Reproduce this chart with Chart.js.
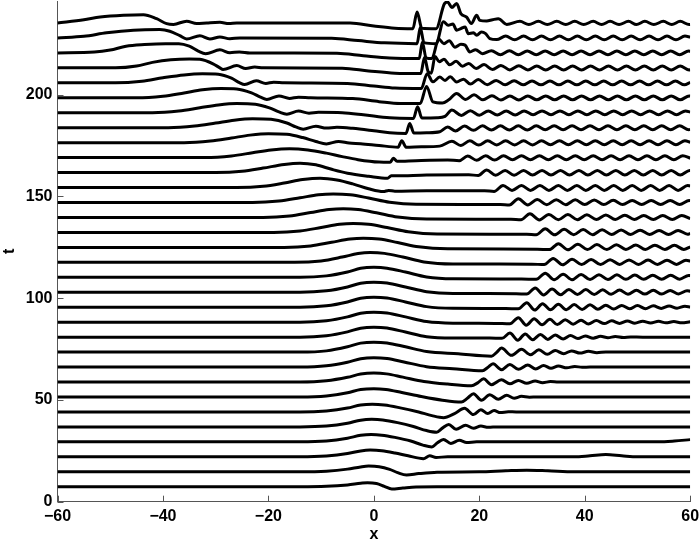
<!DOCTYPE html>
<html lang="en">
<head>
<meta charset="UTF-8">
<title>Waterfall</title>
<script src="https://cdn.jsdelivr.net/npm/chart.js"></script>
<style>
  html, body { margin: 0; padding: 0; background: #fff; }
</style>
</head>
<body>
<canvas id="mychart" width="700" height="545"></canvas>
<script>
// baseline t of every trace, bottom to top
const tBase = [7.35, 14.7, 22.05, 29.4, 36.75, 44.1, 51.45, 58.8, 66.15, 73.5, 80.85, 88.2, 95.55, 102.9, 110.25, 117.6,
               124.95, 132.3, 139.65, 147, 154.35, 161.7, 169.05, 176.4, 183.75, 191.1, 198.45, 205.8, 213.15, 220.5, 227.85, 235.2];

const xTicks = [-60, -40, -20, 0, 20, 40, 60];
const yTicks = [0, 50, 100, 150, 200];

// each trace: [x, height above its baseline]
const u01 = [[-60,0],[-14,0],[-9,0.2],[-5,0.9],[-2.5,1.7],[-1.2,2.0],[0.5,1.6],[2,0.2],[3.4,-1.1],[5.5,-0.6],[8,-0.1],[12,0],[60,0]];
const u02 = [[-60,0],[-14,0],[-9,0.3],[-5,1.3],[-2.5,2.4],[-1,2.8],[1,2.5],[3,1.2],[4.5,-0.4],[6.2,-1.6],[8.5,-0.9],[12,-0.2],[20,0],[25,0.5],[29,0.8],[33,0.5],[38,0],[60,0]];
const u03 = [[-60,0],[-14,0],[-9,0.4],[-5,1.6],[-2.5,2.9],[-0.7,3.3],[1.5,3.0],[4,1.9],[6.5,0.5],[9.4,-0.9],[10.6,0.5],[11.8,-0.3],[14,0],[38,0],[41,0.5],[44,1.1],[47,0.5],[50,0],[60,0]];
const u04 = [[-60,0],[-14,0],[-9,0.4],[-5,1.8],[-2.5,3.2],[-0.5,3.6],[1.5,3.3],[4,2.2],[7,0.4],[9.3,-1.6],[11,-2.5],[12,-0.6],[13.2,1.2],[14.6,-0.8],[16.2,0.8],[17.6,-0.3],[19.5,0],[54,0],[57,0.4],[60,1.1]];
const u05 = [[-60,0],[-14,0],[-9,0.4],[-5,1.8],[-2.5,3.3],[-0.4,3.7],[1.7,3.4],[4.5,2.1],[7.5,0.2],[10,-1.8],[11.9,-2.6],[13,-0.6],[14.2,1.2],[15.6,-1.2],[17.4,0.8],[18.9,-0.7],[20.3,0.4],[21.7,-0.2],[23.5,0],[60,0]];
const u06 = [[-60,0],[-14,0],[-9,0.5],[-5,1.9],[-2.5,3.4],[-0.3,3.8],[2,3.4],[5,2],[8.5,0],[11,-1.8],[13.2,-2.8],[15.3,-0.8],[17.2,1.8],[18.9,-1.3],[20.3,1.1],[21.6,-0.8],[22.8,0.7],[24,-0.3],[25.5,0.1],[27,0],[60,0]];
const u07 = [[-60,0],[-14,0],[-9,0.5],[-5,2.1],[-2.5,3.7],[0,4.1],[2.3,3.7],[5.3,2.2],[9,0.2],[13,-1.6],[16.6,-2.5],[17.8,-0.5],[18.9,1.6],[20.4,-1.6],[22,1.1],[23.6,-1.1],[25.2,0.8],[26.6,-0.6],[28,0.3],[29.5,-0.1],[31,0],[60,0]];
const u08 = [[-60,0],[-14,0],[-9,0.6],[-5,2.3],[-2.5,3.9],[0,4.4],[2.4,4.0],[5.5,2.4],[9.5,0.3],[14,-1.0],[18.5,-1.8],[19.7,-0.4],[20.8,1.6],[22.3,-1.3],[24.2,1.1],[25.8,-0.9],[27.4,0.8],[29,-0.6],[30.6,0.5],[32,-0.3],[33.5,0.2],[35,0],[60,0]];
const u09 = [[-60,0],[-14,0],[-9,0.6],[-5,2.4],[-2.5,4.1],[0,4.6],[2.5,4.2],[5.7,2.5],[10,0.2],[15,-0.8],[20.6,-1.8],[21.6,-0.2],[22.6,1.6],[24.2,-1.3],[25.8,1.3],[27.4,-1.1],[29.2,1.0],[30.7,-0.9],[32.2,0.8],[33.6,-0.6],[35,0.5],[36.6,-0.4],[38.1,0.3],[39.5,-0.1],[41,0],[60,0]];
const u10 = [[-60,0],[-14,0],[-9,0.6],[-5,2.6],[-2.5,4.4],[0,4.9],[2.5,4.5],[6,2.6],[10,0.3],[16,-0.8],[22.3,-2.0],[23.3,-0.1],[24.2,2.0],[26.1,-1.6],[28,1.4],[29.7,-1.3],[31.3,1.1],[32.9,-1.1],[34.4,0.8],[36,-0.8],[37.5,0.6],[39.1,-0.5],[40.7,0.4],[42.3,-0.3],[44,0.1],[46,0],[60,0]];
const u11 = [[-60,0],[-14,0],[-9,0.7],[-5,2.6],[-2.5,4.4],[0,4.9],[2.5,4.5],[6,2.5],[10,0.2],[15,-0.4],[22,-0.4],[24.3,-0.6],[25.8,2.0],[27.3,-1.5],[28.7,1.6],[30.1,-1.3],[31.6,1.3],[33,-1.1],[34.4,1.0],[35.9,-0.9],[37.3,0.8],[38.7,-0.7],[40.1,0.6],[41.6,-0.5],[43,0.4],[44.4,-0.3],[45.8,0.3],[47.3,-0.2],[48.7,0.1],[51,0],[60,0]];
const u12 = [[-60,0],[-14,0],[-9,0.7],[-5,2.6],[-2.5,4.4],[0,4.9],[2.5,4.5],[6,2.6],[10,0.3],[15,-0.5],[23,-0.6],[25.8,-0.8],[27.4,2.2],[28.9,-1.5],[30.4,1.7],[31.9,-1.3],[33.4,1.4],[34.8,-1.2],[36.3,1.2],[37.8,-1.0],[39.3,1.0],[40.7,-0.9],[42.2,0.8],[43.7,-0.7],[45.1,0.7],[46.6,-0.6],[48.1,0.6],[49.5,-0.5],[51,0.5],[52.5,-0.4],[54,0.4],[55.4,-0.3],[56.9,0.3],[58.4,-0.3],[60,0.2]];
const u13 = [[-60,0],[-14,0],[-9,0.7],[-5,2.6],[-2.5,4.4],[0,4.9],[2.5,4.5],[6,2.6],[10,0.3],[15,-0.5],[25,-0.6],[27.4,-0.8],[29,2.2],[30.5,-1.4],[32,1.7],[33.5,-1.3],[35,1.5],[36.5,-1.2],[38,1.3],[39.5,-1.1],[41,1.2],[42.5,-1.0],[44,1.0],[45.5,-0.9],[47,0.9],[48.5,-0.8],[50,0.8],[51.5,-0.7],[53,0.7],[54.5,-0.6],[56,0.6],[57.5,-0.5],[59,0.5],[60,0.1]];
const u14 = [[-60,0],[-14,0],[-9,0.7],[-5,2.6],[-2.5,4.4],[0,4.9],[2.5,4.5],[6,2.6],[10,0.3],[15,-0.6],[27,-0.7],[29,-0.9],[30.6,2.1],[32.2,-1.3],[33.8,1.6],[35.4,-1.2],[37,1.4],[38.6,-1.1],[40.2,1.3],[41.8,-1.1],[43.4,1.2],[45,-1.0],[46.6,1.1],[48.2,-1.0],[49.8,1.0],[51.4,-0.9],[53,1.0],[54.6,-0.9],[56.2,0.9],[57.8,-0.8],[59.4,0.8],[60,0.5]];
const u15 = [[-60,0],[-14,0],[-9,0.7],[-5,2.6],[-2.5,4.4],[0,4.9],[2.5,4.5],[6,2.6],[10,0.2],[15,-0.7],[28,-0.8],[30.8,-1.0],[32.5,2.0],[34.2,-1.2],[35.9,1.5],[37.6,-1.2],[39.3,1.4],[41,-1.1],[42.7,1.3],[44.4,-1.1],[46.1,1.2],[47.8,-1.0],[49.5,1.1],[51.2,-1.0],[52.9,1.0],[54.6,-1.0],[56.3,1.0],[58,-0.9],[59.7,0.9],[60,0.8]];
const u16 = [[-60,0],[-15,0],[-10,0.7],[-6,2.6],[-3,4.3],[-0.7,4.8],[2,4.4],[5.5,2.6],[9.5,0.2],[15,-0.8],[30,-0.9],[32.3,-1.1],[34,1.9],[35.8,-1.2],[37.6,1.5],[39.4,-1.1],[41.2,1.4],[43,-1.1],[44.8,1.3],[46.6,-1.0],[48.4,1.2],[50.2,-1.0],[52,1.1],[53.8,-1.0],[55.6,1.0],[57.4,-1.0],[59.2,1.0],[60,0.6]];
const u17 = [[-60,0],[-17,0],[-12,0.7],[-8,2.5],[-4.5,4.1],[-2,4.5],[1,4.1],[4.5,2.4],[8.5,0.3],[14,-0.7],[31,-0.9],[33.3,-1.1],[35,1.8],[36.8,-1.2],[38.7,1.5],[40.5,-1.1],[42.3,1.4],[44.2,-1.1],[46,1.3],[47.8,-1.0],[49.7,1.2],[51.5,-1.0],[53.3,1.1],[55.2,-1.0],[57,1.0],[58.8,-1.0],[60,0.3]];
const u18 = [[-60,0],[-19,0],[-14,0.7],[-10,2.4],[-6.5,4.0],[-3.9,4.4],[-1,4.0],[2.5,2.4],[6.5,0.3],[12,-0.8],[29,-0.9],[30.8,-1.1],[32.5,1.8],[34.3,-1.2],[36.1,1.5],[37.9,-1.1],[39.7,1.4],[41.5,-1.1],[43.3,1.3],[45.1,-1.0],[46.9,1.2],[48.7,-1.0],[50.5,1.1],[52.3,-1.0],[54.1,1.0],[55.9,-1.0],[57.7,1.0],[59.5,-0.9],[60,-0.5]];
const u19 = [[-60,0],[-21,0],[-16,0.7],[-12,2.4],[-8.5,3.9],[-5.8,4.3],[-3,3.9],[0.5,2.3],[4.5,0.2],[10,-0.8],[26,-0.9],[27.9,-1.1],[29.6,1.8],[31.4,-1.2],[33.2,1.5],[35,-1.1],[36.8,1.4],[38.6,-1.1],[40.4,1.3],[42.2,-1.0],[44,1.2],[45.8,-1.0],[47.6,1.1],[49.4,-1.0],[51.2,1.0],[53,-1.0],[54.8,1.0],[56.6,-1.0],[58.4,1.0],[60,-0.6]];
const u20 = [[-60,0],[-23,0],[-18,0.7],[-14,2.3],[-10.5,3.8],[-7.7,4.2],[-4.5,3.8],[-1,2.2],[3,0.1],[8,-0.9],[24,-1.0],[25.7,-1.2],[27.4,1.8],[29.2,-1.2],[31,1.5],[32.8,-1.1],[34.6,1.4],[36.4,-1.1],[38.2,1.3],[40,-1.0],[41.8,1.2],[43.6,-1.0],[45.4,1.1],[47.2,-1.0],[49,1.0],[50.8,-1.0],[52.6,1.0],[54.4,-1.0],[56.2,1.0],[58,-1.0],[59.8,1.0],[60,0.9]];
const u21 = [[-60,0],[-26,0],[-21,0.6],[-17,2.2],[-13.5,3.9],[-10.2,4.6],[-7,3.7],[-4,1.8],[-1,-0.6],[1.8,-2.0],[2.8,-1.4],[4,-1.8],[10,-1.6],[21,-1.6],[22.8,-1.9],[24.5,1.0],[26.2,-1.4],[28,1.0],[29.7,-1.4],[31.5,1.0],[33.2,-1.4],[35,1.0],[36.7,-1.4],[38.5,1.0],[40.2,-1.4],[42,1.0],[43.7,-1.4],[45.5,1.0],[47.2,-1.4],[49,1.0],[50.7,-1.4],[52.5,1.0],[54.2,-1.4],[56,1.0],[57.7,-1.4],[59.5,1.0],[60,0.8]];
const u22 = [[-60,0],[-30,0],[-25,0.6],[-21,2.2],[-17,4.0],[-14,4.6],[-11,3.8],[-8,1.6],[-5,-0.3],[-1,-1.8],[2.6,-2.8],[3.3,-1.6],[4.2,-1.6],[10,-1.2],[18,-1.1],[19.8,-1.4],[21.4,1.3],[23.1,-1.3],[24.9,1.0],[26.6,-1.3],[28.4,1.0],[30.1,-1.2],[31.9,1.0],[33.6,-1.2],[35.4,1.0],[37.1,-1.2],[38.9,1.0],[40.6,-1.2],[42.4,1.0],[44.1,-1.2],[45.9,1.0],[47.6,-1.2],[49.4,1.0],[51.1,-1.2],[52.9,1.0],[54.6,-1.2],[56.4,1.0],[58.1,-1.2],[59.9,1.0],[60,1.0]];
const u23 = [[-60,0],[-32,0],[-27,0.8],[-23,2.4],[-19.5,3.8],[-16,4.4],[-12.5,3.8],[-9,2.2],[-6,0.5],[-3,-1.0],[1,-2.2],[3.1,-2.3],[3.7,-0.3],[4.4,-1.8],[8,-1.5],[14,-1.2],[16.2,-1.5],[17.8,0.8],[19.5,-1.3],[21.2,0.9],[22.9,-1.2],[24.6,0.9],[26.3,-1.1],[28,0.9],[29.7,-1.1],[31.4,0.9],[33.1,-1.0],[34.8,0.9],[36.5,-1.0],[38.2,0.9],[39.9,-1.0],[41.6,0.9],[43.3,-1.0],[45,0.9],[46.7,-1.0],[48.4,0.9],[50.1,-1.0],[51.8,0.9],[53.5,-1.0],[55.2,0.9],[56.9,-1.0],[58.6,0.9],[60,-0.3]];
const u24 = [[-60,0],[-36,0],[-31,0.8],[-27,2.3],[-23.5,3.7],[-20,4.4],[-16.5,4.1],[-13.5,2.5],[-11,0.6],[-9,-0.6],[-6.7,0.6],[-4.7,-0.2],[-2.5,-0.5],[1,-1.4],[4.6,-2.2],[5.3,1.0],[6.1,-2.2],[9,-2.0],[12.5,-1.7],[14.8,0.7],[16.5,-1.4],[18.2,0.9],[19.9,-1.2],[21.6,0.9],[23.3,-1.1],[25,0.9],[26.7,-1.1],[28.4,0.9],[30.1,-1.1],[31.8,0.9],[33.5,-1.0],[35.2,0.9],[36.9,-1.0],[38.6,0.9],[40.3,-1.0],[42,0.9],[43.7,-1.0],[45.4,0.9],[47.1,-1.0],[48.8,0.9],[50.5,-1.0],[52.2,0.9],[53.9,-1.0],[55.6,0.9],[57.3,-1.0],[59,0.9],[60,0.2]];
const u25 = [[-60,0],[-39,0],[-34,0.8],[-30,2.3],[-26.5,3.7],[-23,4.4],[-19.5,4.1],[-16.5,2.3],[-14.8,0.4],[-13.4,-0.7],[-11,0.7],[-9,-0.2],[-7,0.2],[-4,-0.3],[0,-1.5],[3,-2.5],[6.1,-2.8],[6.8,2.1],[7.6,-2.6],[10,-2.5],[12.5,-2.0],[14,0.3],[15.5,-1.6],[17.2,0.8],[18.9,-1.3],[20.6,0.9],[22.3,-1.1],[24,0.9],[25.7,-1.1],[27.4,0.9],[29.1,-1.1],[30.8,0.9],[32.5,-1.0],[34.2,0.9],[35.9,-1.0],[37.6,0.9],[39.3,-1.0],[41,0.9],[42.7,-1.0],[44.4,0.9],[46.1,-1.0],[47.8,0.9],[49.5,-1.0],[51.2,0.9],[52.9,-1.0],[54.6,0.9],[56.3,-1.0],[58,0.9],[59.7,-1.0],[60,-0.9]];
const u26 = [[-60,0],[-42,0],[-37,0.8],[-33,2.4],[-29.5,3.8],[-26,4.5],[-22.5,4.2],[-19.8,2.4],[-18,0.4],[-16.5,-0.7],[-14.3,0.8],[-12.3,-0.2],[-10.5,0.2],[-6,0],[-2,-1.0],[3,-2.5],[7.5,-2.8],[8.3,2.9],[9.1,-2.6],[12,-2.5],[13.5,-1.8],[14.8,1.3],[16.6,-1.3],[18.3,1.0],[20,-1.2],[21.7,0.9],[23.4,-1.1],[25.1,0.9],[26.8,-1.1],[28.5,0.9],[30.2,-1.0],[31.9,0.9],[33.6,-1.0],[35.3,0.9],[37,-1.0],[38.7,0.9],[40.4,-1.0],[42.1,0.9],[43.8,-1.0],[45.5,0.9],[47.2,-1.0],[48.9,0.9],[50.6,-1.0],[52.3,0.9],[54,-1.0],[55.7,0.9],[57.4,-1.0],[59.1,0.9],[60,0.3]];
const u27 = [[-60,0],[-45,0],[-40,0.8],[-36,2.4],[-32.5,3.9],[-29,4.5],[-26,4.3],[-23.2,2.4],[-21.5,0.3],[-20.3,-0.8],[-18,0.9],[-16,-0.3],[-14.3,0.3],[-12,0],[-4,-0.4],[1,-1.9],[5,-2.8],[8.8,-2.8],[10,5.6],[11.2,-2.0],[13,-2.6],[14.2,-1.0],[15.7,2.1],[17.4,-0.8],[19,1.5],[20.7,-1.0],[22.4,1.0],[24.1,-1.1],[25.8,0.9],[27.5,-1.1],[29.2,0.9],[30.9,-1.0],[32.6,0.9],[34.3,-1.0],[36,0.9],[37.7,-1.0],[39.4,0.9],[41.1,-1.0],[42.8,0.9],[44.5,-1.0],[46.2,0.9],[47.9,-1.0],[49.6,0.9],[51.3,-1.0],[53,0.9],[54.7,-1.0],[56.4,0.9],[58.1,-1.0],[59.8,0.9],[60,0.8]];
const u28 = [[-60,0],[-49,0],[-44,0.8],[-40,2.5],[-36,3.9],[-32.5,4.4],[-29.5,4.2],[-27,2.3],[-25.5,0.1],[-24.5,-0.8],[-22.3,1.0],[-20.5,-0.3],[-19,0.3],[-17,0],[-5,-0.3],[0,-1.6],[4,-2.6],[9,-2.8],[10.1,4.5],[11.2,0.5],[12.5,2.8],[13.5,1.2],[14.5,3.0],[15.7,0.4],[17,1.8],[18.3,-0.6],[19.8,1.6],[21.5,-0.9],[23.2,1.2],[24.9,-1.0],[26.6,1.0],[28.3,-1.0],[30,0.9],[31.7,-1.0],[33.4,0.9],[35.1,-1.0],[36.8,0.9],[38.5,-1.0],[40.2,0.9],[41.9,-1.0],[43.6,0.9],[45.3,-1.0],[47,0.9],[48.7,-1.0],[50.4,0.9],[52.1,-1.0],[53.8,0.9],[55.5,-1.0],[57.2,0.9],[58.9,-1.0],[60,0.2]];
const u29 = [[-60,0],[-49,0],[-45,0.9],[-42,2.7],[-38.5,4.0],[-35,4.4],[-33,4.2],[-30.5,2.0],[-29.2,0],[-28.6,-0.8],[-26,1.1],[-24.3,-0.3],[-22.6,0.4],[-21,0],[-6,-0.2],[-1,-1.5],[4,-2.6],[8.9,-2.8],[9.6,5.1],[10.3,-1.8],[10.9,-2.6],[11.6,5.6],[12.4,3.0],[13.3,4.2],[14.4,1.5],[15.6,3.2],[16.8,0.8],[18,2.2],[19.4,-0.3],[20.9,1.6],[22.5,-0.8],[24.1,1.2],[25.8,-1.0],[27.5,1.0],[29.2,-1.0],[30.9,0.9],[32.6,-1.0],[34.3,0.9],[36,-1.0],[37.7,0.9],[39.4,-1.0],[41.1,0.9],[42.8,-1.0],[44.5,0.9],[46.2,-1.0],[47.9,0.9],[49.6,-1.0],[51.3,0.9],[53,-1.0],[54.7,0.9],[56.4,-1.0],[58.1,0.9],[59.8,-1.0],[60,-0.9]];
const u30 = [[-60,0],[-53,0.4],[-50,1.4],[-47,3.3],[-43.5,4.1],[-39.5,4.5],[-37,4.5],[-35,3.3],[-33.3,0.9],[-31.9,-0.4],[-29.2,1.5],[-27.3,0.1],[-25.5,0.5],[-23.5,0],[-7,-0.2],[-2,-1.4],[3,-2.5],[8.6,-2.8],[9.2,5.2],[9.9,-2.4],[11,-2.8],[12.3,6.8],[13.3,4.5],[14.3,6.0],[15.4,2.8],[16.5,4.2],[17.3,3.8],[18.2,0.5],[19.3,1.6],[20.6,-0.4],[22.3,1.1],[24,-0.9],[25.7,1.0],[27.4,-0.9],[29.1,0.9],[30.8,-0.9],[32.5,0.9],[34.2,-0.9],[35.9,0.9],[37.6,-0.9],[39.3,0.9],[41,-0.9],[42.7,0.9],[44.4,-0.9],[46.1,0.9],[47.8,-0.9],[49.5,0.9],[51.2,-0.9],[52.9,0.9],[54.6,-0.9],[56.3,0.9],[58,-0.9],[59.7,0.9],[60,0.8]];
const u31 = [[-60,0],[-55,0.8],[-50.7,2.5],[-45.6,3.8],[-40.6,4.1],[-38.7,3.3],[-36.8,1.1],[-35.5,-0.5],[-33,1.1],[-31.1,-0.5],[-29.2,0.5],[-27.3,-0.4],[-25.4,0],[-8,-0.2],[-3,-1.3],[2,-2.4],[8.2,-2.8],[8.8,5.1],[9.5,-2.3],[11.8,-2.8],[13.2,8.0],[14.1,6.2],[15,6.8],[15.7,3.8],[16.5,4.6],[17.3,5.4],[17.9,2.1],[18.9,2.5],[19.5,1.3],[20.4,2.9],[21.2,2.1],[22,-0.3],[23.3,-0.8],[25,0.9],[26.7,-0.9],[28.4,0.9],[30.1,-0.9],[31.8,0.9],[33.5,-0.9],[35.2,0.9],[36.9,-0.9],[38.6,0.9],[40.3,-0.9],[42,0.9],[43.7,-0.9],[45.4,0.9],[47.1,-0.9],[48.8,0.9],[50.5,-0.9],[52.2,0.9],[53.9,-0.9],[55.6,0.9],[57.3,-0.9],[59,0.9],[60,0.4]];
const u32 = [[-60,0],[-55,1.6],[-51.9,2.9],[-47.5,3.8],[-43.7,4.1],[-41.2,2.1],[-39.3,-0.3],[-38,-0.7],[-35.5,0.9],[-33.6,-0.3],[-31.7,0],[-29.2,0.3],[-27.5,-0.3],[-26,0],[-4.5,0],[0,-1.5],[4,-2.6],[7.4,-2.8],[8.2,5.4],[9.1,-2.6],[11.8,-2.8],[13.4,9.5],[14,10.3],[14.8,7.6],[15.7,9.6],[16.5,4.6],[17.6,2.9],[18.5,-0.3],[19.5,3.8],[20.1,1.3],[21.4,1.0],[22.5,1.6],[23.6,2.1],[25.2,-0.7],[27.7,0.8],[29.4,-0.8],[31.2,0.8],[32.9,-0.8],[34.7,0.8],[36.4,-0.8],[38.1,0.8],[39.8,-0.8],[41.6,0.8],[43.2,-0.8],[44.8,0.8],[46.5,-0.8],[48.3,0.8],[49.8,-0.8],[51.4,0.8],[53.1,-0.8],[54.9,0.8],[56.5,-0.8],[58.1,0.8],[59.8,-0.8],[60,-0.7]];

const traces = [u01, u02, u03, u04, u05, u06, u07, u08, u09, u10, u11, u12, u13, u14, u15, u16,
                u17, u18, u19, u20, u21, u22, u23, u24, u25, u26, u27, u28, u29, u30, u31, u32];

const datasets = traces.map((tr, i) => ({
    data: tr.map(p => ({x: p[0], y: tBase[i] + p[1]})),
    borderColor: '#000',
    borderWidth: 3,
    pointRadius: 0,
    fill: false,
    cubicInterpolationMode: 'monotone'
}));

const minus = v => (v < 0 ? '\u2212' + Math.abs(v) : String(v));
const labelFont = {family: '"Liberation Sans", Arial, Helvetica, sans-serif', size: 16, weight: 'bold'};

// short tick marks drawn inside the axes
const innerTicks = {
    id: 'innerTicks',
    afterDraw(chart) {
        const {ctx, chartArea, scales} = chart;
        ctx.save();
        ctx.strokeStyle = '#555';
        ctx.lineWidth = 1;
        xTicks.forEach(v => {
            const px = Math.round(scales.x.getPixelForValue(v)) + 0.5;
            ctx.beginPath();
            ctx.moveTo(px, chartArea.bottom);
            ctx.lineTo(px, chartArea.bottom - 6);
            ctx.stroke();
        });
        yTicks.forEach(v => {
            const py = Math.round(scales.y.getPixelForValue(v)) + 0.5;
            ctx.beginPath();
            ctx.moveTo(chartArea.left, py);
            ctx.lineTo(chartArea.left + 6, py);
            ctx.stroke();
        });
        ctx.restore();
    }
};

new Chart(document.getElementById('mychart'), {
    type: 'line',
    data: {datasets: datasets},
    options: {
        responsive: false,
        animation: false,
        devicePixelRatio: 1,
        layout: {padding: {top: 1, right: 9.8, left: 0, bottom: 0}},
        plugins: {legend: {display: false}, tooltip: {enabled: false}},
        scales: {
            x: {
                type: 'linear', min: -60, max: 60,
                afterBuildTicks: s => { s.ticks = xTicks.map(v => ({value: v})); },
                afterFit: s => { s.height = 43.3; s.paddingLeft = 0; s.paddingRight = 0; },
                grid: {display: false, drawTicks: false},
                border: {color: '#555', width: 1},
                ticks: {color: '#000', font: labelFont, padding: 5, maxRotation: 0, callback: minus},
                title: {display: true, text: 'x', color: '#000', font: labelFont, padding: {top: 0, bottom: 1}}
            },
            y: {
                type: 'linear', min: 0, max: 246,
                afterBuildTicks: s => { s.ticks = yTicks.map(v => ({value: v})); },
                afterFit: s => { s.width = 57.5; s.paddingTop = 0; s.paddingBottom = 0; },
                grid: {display: false, drawTicks: false},
                border: {color: '#555', width: 1},
                ticks: {color: '#000', font: labelFont, padding: 5},
                title: {display: true, text: 't', color: '#000', font: labelFont, padding: {top: 0, bottom: 0}}
            }
        }
    },
    plugins: [innerTicks]
});
</script>
</body>
</html>
